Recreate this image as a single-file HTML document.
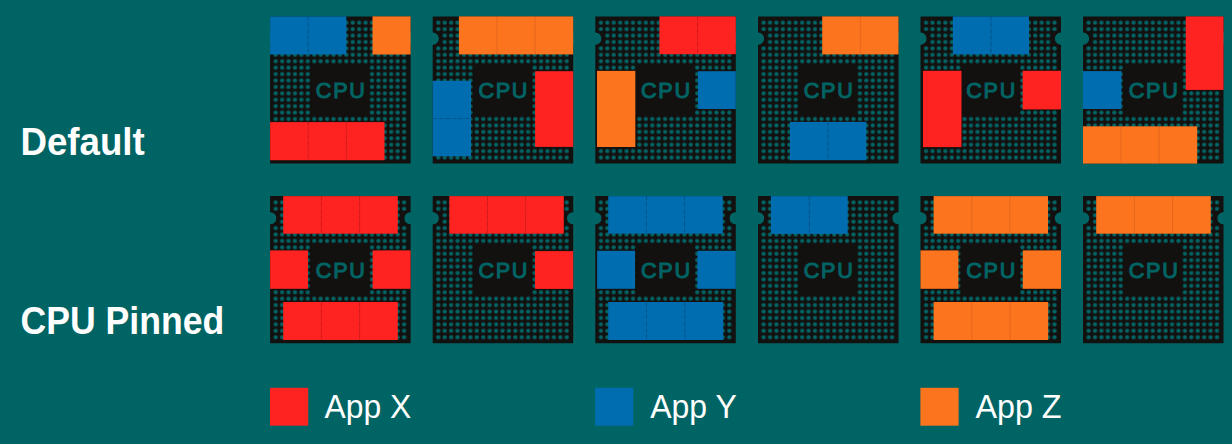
<!DOCTYPE html>
<html><head><meta charset="utf-8"><style>
html,body{margin:0;padding:0;background:#016464;width:1232px;height:444px;overflow:hidden}
svg{display:block}
</style></head><body>
<svg width="1232" height="444" viewBox="0 0 1232 444">
<defs>
<pattern id="dots" patternUnits="userSpaceOnUse" x="2.39" y="3.09" width="6.42" height="6.42">
<circle cx="3.21" cy="3.21" r="2.12" fill="#016464"/>
</pattern>
<clipPath id="chipclip"><path d="M0 0H140.5 V15.9 A6.3 6.3 0 0 0 140.5 28.5 V147.2 H0 V28.5 A6.3 6.3 0 0 0 0 15.9 Z"/></clipPath>
</defs>
<rect width="1232" height="444" fill="#016464"/>
<g transform="translate(270.1,16.4)">
<path d="M0 0H140.5 V15.9 A6.3 6.3 0 0 0 140.5 28.5 V147.2 H0 V28.5 A6.3 6.3 0 0 0 0 15.9 Z" fill="#131110"/>
<g clip-path="url(#chipclip)">
<rect x="2.39" y="3.09" width="134.82" height="141.24" fill="url(#dots)"/>
<rect x="41.1" y="47.8" width="58" height="51.6" fill="#131110"/>
<rect x="0" y="14.9" width="9" height="14.5" fill="#131110"/>
<rect x="130.5" y="14.9" width="10" height="14.5" fill="#131110"/>
</g>
<text x="70.25" y="81.45" font-family="Liberation Sans" font-size="21.6" fill="#016464" stroke="#016464" stroke-width="1.05" text-anchor="middle" textLength="49" lengthAdjust="spacing">CPU</text>
<rect x="0" y="0" width="76.2" height="38.1" fill="#016db1"/>
<line x1="38.1" y1="0" x2="38.1" y2="38.1" stroke="rgba(0,0,0,0.1)" stroke-width="1"/>
<line x1="38.1" y1="1" x2="38.1" y2="37.1" stroke="rgba(0,0,0,0.18)" stroke-width="1" stroke-dasharray="2.4 4.03"/>
<rect x="102.4" y="0" width="38.1" height="38.1" fill="#fd741f"/>
<rect x="0" y="105.7" width="114.4" height="38.1" fill="#fe2321"/>
<line x1="38.13" y1="105.7" x2="38.13" y2="143.8" stroke="rgba(60,0,0,0.16)" stroke-width="1"/>
<line x1="38.13" y1="106.7" x2="38.13" y2="142.8" stroke="rgba(0,0,0,0.1)" stroke-width="1" stroke-dasharray="2.4 4.03"/>
<line x1="76.27" y1="105.7" x2="76.27" y2="143.8" stroke="rgba(60,0,0,0.16)" stroke-width="1"/>
<line x1="76.27" y1="106.7" x2="76.27" y2="142.8" stroke="rgba(0,0,0,0.1)" stroke-width="1" stroke-dasharray="2.4 4.03"/>
</g>
<g transform="translate(432.7,16.4)">
<path d="M0 0H140.5 V15.9 A6.3 6.3 0 0 0 140.5 28.5 V147.2 H0 V28.5 A6.3 6.3 0 0 0 0 15.9 Z" fill="#131110"/>
<g clip-path="url(#chipclip)">
<rect x="2.39" y="3.09" width="134.82" height="141.24" fill="url(#dots)"/>
<rect x="41.1" y="47.8" width="58" height="51.6" fill="#131110"/>
<rect x="0" y="14.9" width="9" height="14.5" fill="#131110"/>
<rect x="130.5" y="14.9" width="10" height="14.5" fill="#131110"/>
</g>
<text x="70.25" y="81.45" font-family="Liberation Sans" font-size="21.6" fill="#016464" stroke="#016464" stroke-width="1.05" text-anchor="middle" textLength="49" lengthAdjust="spacing">CPU</text>
<rect x="26.2" y="0" width="114.3" height="38" fill="#fd741f"/>
<line x1="64.3" y1="0" x2="64.3" y2="38" stroke="rgba(90,20,0,0.14)" stroke-width="1"/>
<line x1="64.3" y1="1" x2="64.3" y2="37" stroke="rgba(0,0,0,0)" stroke-width="1" stroke-dasharray="2.4 4.03"/>
<line x1="102.4" y1="0" x2="102.4" y2="38" stroke="rgba(90,20,0,0.14)" stroke-width="1"/>
<line x1="102.4" y1="1" x2="102.4" y2="37" stroke="rgba(0,0,0,0)" stroke-width="1" stroke-dasharray="2.4 4.03"/>
<rect x="0" y="64.4" width="38.3" height="75.5" fill="#016db1"/>
<line x1="0" y1="102.15" x2="38.3" y2="102.15" stroke="rgba(0,0,0,0.1)" stroke-width="1"/>
<line x1="1" y1="102.15" x2="37.3" y2="102.15" stroke="rgba(0,0,0,0.18)" stroke-width="1" stroke-dasharray="2.4 4.03"/>
<rect x="102.4" y="54.8" width="38.1" height="75.7" fill="#fe2321"/>
</g>
<g transform="translate(595.3,16.4)">
<path d="M0 0H140.5 V15.9 A6.3 6.3 0 0 0 140.5 28.5 V147.2 H0 V28.5 A6.3 6.3 0 0 0 0 15.9 Z" fill="#131110"/>
<g clip-path="url(#chipclip)">
<rect x="2.39" y="3.09" width="134.82" height="141.24" fill="url(#dots)"/>
<rect x="41.1" y="47.8" width="58" height="51.6" fill="#131110"/>
<rect x="0" y="14.9" width="9" height="14.5" fill="#131110"/>
<rect x="130.5" y="14.9" width="10" height="14.5" fill="#131110"/>
</g>
<text x="70.25" y="81.45" font-family="Liberation Sans" font-size="21.6" fill="#016464" stroke="#016464" stroke-width="1.05" text-anchor="middle" textLength="49" lengthAdjust="spacing">CPU</text>
<rect x="64.1" y="0" width="76.4" height="37.8" fill="#fe2321"/>
<line x1="102.3" y1="0" x2="102.3" y2="37.8" stroke="rgba(60,0,0,0.16)" stroke-width="1"/>
<line x1="102.3" y1="1" x2="102.3" y2="36.8" stroke="rgba(0,0,0,0.1)" stroke-width="1" stroke-dasharray="2.4 4.03"/>
<rect x="1.7" y="54.5" width="38.3" height="76.1" fill="#fd741f"/>
<rect x="102.7" y="54.8" width="37.8" height="37.8" fill="#016db1"/>
</g>
<g transform="translate(758,16.4)">
<path d="M0 0H140.5 V15.9 A6.3 6.3 0 0 0 140.5 28.5 V147.2 H0 V28.5 A6.3 6.3 0 0 0 0 15.9 Z" fill="#131110"/>
<g clip-path="url(#chipclip)">
<rect x="2.39" y="3.09" width="134.82" height="141.24" fill="url(#dots)"/>
<rect x="41.1" y="47.8" width="58" height="51.6" fill="#131110"/>
<rect x="0" y="14.9" width="9" height="14.5" fill="#131110"/>
<rect x="130.5" y="14.9" width="10" height="14.5" fill="#131110"/>
</g>
<text x="70.25" y="81.45" font-family="Liberation Sans" font-size="21.6" fill="#016464" stroke="#016464" stroke-width="1.05" text-anchor="middle" textLength="49" lengthAdjust="spacing">CPU</text>
<rect x="64.2" y="0" width="76.3" height="38" fill="#fd741f"/>
<line x1="102.35" y1="0" x2="102.35" y2="38" stroke="rgba(90,20,0,0.14)" stroke-width="1"/>
<line x1="102.35" y1="1" x2="102.35" y2="37" stroke="rgba(0,0,0,0)" stroke-width="1" stroke-dasharray="2.4 4.03"/>
<rect x="31.9" y="105.5" width="76.3" height="38.3" fill="#016db1"/>
<line x1="70.05" y1="105.5" x2="70.05" y2="143.8" stroke="rgba(0,0,0,0.1)" stroke-width="1"/>
<line x1="70.05" y1="106.5" x2="70.05" y2="142.8" stroke="rgba(0,0,0,0.18)" stroke-width="1" stroke-dasharray="2.4 4.03"/>
</g>
<g transform="translate(920.5,16.4)">
<path d="M0 0H140.5 V15.9 A6.3 6.3 0 0 0 140.5 28.5 V147.2 H0 V28.5 A6.3 6.3 0 0 0 0 15.9 Z" fill="#131110"/>
<g clip-path="url(#chipclip)">
<rect x="2.39" y="3.09" width="134.82" height="141.24" fill="url(#dots)"/>
<rect x="41.1" y="47.8" width="58" height="51.6" fill="#131110"/>
<rect x="0" y="14.9" width="9" height="14.5" fill="#131110"/>
<rect x="130.5" y="14.9" width="10" height="14.5" fill="#131110"/>
</g>
<text x="70.25" y="81.45" font-family="Liberation Sans" font-size="21.6" fill="#016464" stroke="#016464" stroke-width="1.05" text-anchor="middle" textLength="49" lengthAdjust="spacing">CPU</text>
<rect x="32.3" y="0" width="76.2" height="38" fill="#016db1"/>
<line x1="70.4" y1="0" x2="70.4" y2="38" stroke="rgba(0,0,0,0.1)" stroke-width="1"/>
<line x1="70.4" y1="1" x2="70.4" y2="37" stroke="rgba(0,0,0,0.18)" stroke-width="1" stroke-dasharray="2.4 4.03"/>
<rect x="2.5" y="54.4" width="38.5" height="76.3" fill="#fe2321"/>
<rect x="102.1" y="54.4" width="38.4" height="38.6" fill="#fe2321"/>
</g>
<g transform="translate(1083,16.4)">
<path d="M0 0H140.5 V15.9 A6.3 6.3 0 0 0 140.5 28.5 V147.2 H0 V28.5 A6.3 6.3 0 0 0 0 15.9 Z" fill="#131110"/>
<g clip-path="url(#chipclip)">
<rect x="2.39" y="3.09" width="134.82" height="141.24" fill="url(#dots)"/>
<rect x="41.1" y="47.8" width="58" height="51.6" fill="#131110"/>
<rect x="0" y="14.9" width="9" height="14.5" fill="#131110"/>
<rect x="130.5" y="14.9" width="10" height="14.5" fill="#131110"/>
</g>
<text x="70.25" y="81.45" font-family="Liberation Sans" font-size="21.6" fill="#016464" stroke="#016464" stroke-width="1.05" text-anchor="middle" textLength="49" lengthAdjust="spacing">CPU</text>
<rect x="102.7" y="0" width="37.8" height="73.5" fill="#fe2321"/>
<rect x="0" y="54.7" width="38.4" height="37.9" fill="#016db1"/>
<rect x="0" y="109.9" width="114.2" height="37.3" fill="#fd741f"/>
<line x1="38.07" y1="109.9" x2="38.07" y2="147.2" stroke="rgba(90,20,0,0.14)" stroke-width="1"/>
<line x1="38.07" y1="110.9" x2="38.07" y2="146.2" stroke="rgba(0,0,0,0)" stroke-width="1" stroke-dasharray="2.4 4.03"/>
<line x1="76.13" y1="109.9" x2="76.13" y2="147.2" stroke="rgba(90,20,0,0.14)" stroke-width="1"/>
<line x1="76.13" y1="110.9" x2="76.13" y2="146.2" stroke="rgba(0,0,0,0)" stroke-width="1" stroke-dasharray="2.4 4.03"/>
</g>
<g transform="translate(270.1,196.1)">
<path d="M0 0H140.5 V15.9 A6.3 6.3 0 0 0 140.5 28.5 V147.2 H0 V28.5 A6.3 6.3 0 0 0 0 15.9 Z" fill="#131110"/>
<g clip-path="url(#chipclip)">
<rect x="2.39" y="3.09" width="134.82" height="141.24" fill="url(#dots)"/>
<rect x="41.1" y="47.8" width="58" height="51.6" fill="#131110"/>
<rect x="0" y="14.9" width="9" height="14.5" fill="#131110"/>
<rect x="130.5" y="14.9" width="10" height="14.5" fill="#131110"/>
</g>
<text x="70.25" y="81.45" font-family="Liberation Sans" font-size="21.6" fill="#016464" stroke="#016464" stroke-width="1.05" text-anchor="middle" textLength="49" lengthAdjust="spacing">CPU</text>
<rect x="13.1" y="0" width="114.6" height="37.6" fill="#fe2321"/>
<line x1="51.3" y1="0" x2="51.3" y2="37.6" stroke="rgba(60,0,0,0.16)" stroke-width="1"/>
<line x1="51.3" y1="1" x2="51.3" y2="36.6" stroke="rgba(0,0,0,0.1)" stroke-width="1" stroke-dasharray="2.4 4.03"/>
<line x1="89.5" y1="0" x2="89.5" y2="37.6" stroke="rgba(60,0,0,0.16)" stroke-width="1"/>
<line x1="89.5" y1="1" x2="89.5" y2="36.6" stroke="rgba(0,0,0,0.1)" stroke-width="1" stroke-dasharray="2.4 4.03"/>
<rect x="0" y="54.3" width="37.9" height="38.4" fill="#fe2321"/>
<rect x="102.5" y="54.3" width="38" height="38.4" fill="#fe2321"/>
<rect x="13.1" y="105.9" width="114.6" height="38" fill="#fe2321"/>
<line x1="51.3" y1="105.9" x2="51.3" y2="143.9" stroke="rgba(60,0,0,0.16)" stroke-width="1"/>
<line x1="51.3" y1="106.9" x2="51.3" y2="142.9" stroke="rgba(0,0,0,0.1)" stroke-width="1" stroke-dasharray="2.4 4.03"/>
<line x1="89.5" y1="105.9" x2="89.5" y2="143.9" stroke="rgba(60,0,0,0.16)" stroke-width="1"/>
<line x1="89.5" y1="106.9" x2="89.5" y2="142.9" stroke="rgba(0,0,0,0.1)" stroke-width="1" stroke-dasharray="2.4 4.03"/>
</g>
<g transform="translate(432.7,196.1)">
<path d="M0 0H140.5 V15.9 A6.3 6.3 0 0 0 140.5 28.5 V147.2 H0 V28.5 A6.3 6.3 0 0 0 0 15.9 Z" fill="#131110"/>
<g clip-path="url(#chipclip)">
<rect x="2.39" y="3.09" width="134.82" height="141.24" fill="url(#dots)"/>
<rect x="41.1" y="47.8" width="58" height="51.6" fill="#131110"/>
<rect x="0" y="14.9" width="9" height="14.5" fill="#131110"/>
<rect x="130.5" y="14.9" width="10" height="14.5" fill="#131110"/>
</g>
<text x="70.25" y="81.45" font-family="Liberation Sans" font-size="21.6" fill="#016464" stroke="#016464" stroke-width="1.05" text-anchor="middle" textLength="49" lengthAdjust="spacing">CPU</text>
<rect x="16.6" y="0" width="114.5" height="37.6" fill="#fe2321"/>
<line x1="54.77" y1="0" x2="54.77" y2="37.6" stroke="rgba(60,0,0,0.16)" stroke-width="1"/>
<line x1="54.77" y1="1" x2="54.77" y2="36.6" stroke="rgba(0,0,0,0.1)" stroke-width="1" stroke-dasharray="2.4 4.03"/>
<line x1="92.93" y1="0" x2="92.93" y2="37.6" stroke="rgba(60,0,0,0.16)" stroke-width="1"/>
<line x1="92.93" y1="1" x2="92.93" y2="36.6" stroke="rgba(0,0,0,0.1)" stroke-width="1" stroke-dasharray="2.4 4.03"/>
<rect x="102.3" y="55" width="38.2" height="37.8" fill="#fe2321"/>
</g>
<g transform="translate(595.3,196.1)">
<path d="M0 0H140.5 V15.9 A6.3 6.3 0 0 0 140.5 28.5 V147.2 H0 V28.5 A6.3 6.3 0 0 0 0 15.9 Z" fill="#131110"/>
<g clip-path="url(#chipclip)">
<rect x="2.39" y="3.09" width="134.82" height="141.24" fill="url(#dots)"/>
<rect x="41.1" y="47.8" width="58" height="51.6" fill="#131110"/>
<rect x="0" y="14.9" width="9" height="14.5" fill="#131110"/>
<rect x="130.5" y="14.9" width="10" height="14.5" fill="#131110"/>
</g>
<text x="70.25" y="81.45" font-family="Liberation Sans" font-size="21.6" fill="#016464" stroke="#016464" stroke-width="1.05" text-anchor="middle" textLength="49" lengthAdjust="spacing">CPU</text>
<rect x="12.9" y="0" width="114.6" height="37.6" fill="#016db1"/>
<line x1="51.1" y1="0" x2="51.1" y2="37.6" stroke="rgba(0,0,0,0.1)" stroke-width="1"/>
<line x1="51.1" y1="1" x2="51.1" y2="36.6" stroke="rgba(0,0,0,0.18)" stroke-width="1" stroke-dasharray="2.4 4.03"/>
<line x1="89.3" y1="0" x2="89.3" y2="37.6" stroke="rgba(0,0,0,0.1)" stroke-width="1"/>
<line x1="89.3" y1="1" x2="89.3" y2="36.6" stroke="rgba(0,0,0,0.18)" stroke-width="1" stroke-dasharray="2.4 4.03"/>
<rect x="1.8" y="54.7" width="37.9" height="38" fill="#016db1"/>
<rect x="102.1" y="54.7" width="38.4" height="38" fill="#016db1"/>
<rect x="12.9" y="105.9" width="115" height="38" fill="#016db1"/>
<line x1="51.23" y1="105.9" x2="51.23" y2="143.9" stroke="rgba(0,0,0,0.1)" stroke-width="1"/>
<line x1="51.23" y1="106.9" x2="51.23" y2="142.9" stroke="rgba(0,0,0,0.18)" stroke-width="1" stroke-dasharray="2.4 4.03"/>
<line x1="89.57" y1="105.9" x2="89.57" y2="143.9" stroke="rgba(0,0,0,0.1)" stroke-width="1"/>
<line x1="89.57" y1="106.9" x2="89.57" y2="142.9" stroke="rgba(0,0,0,0.18)" stroke-width="1" stroke-dasharray="2.4 4.03"/>
</g>
<g transform="translate(758,196.1)">
<path d="M0 0H140.5 V15.9 A6.3 6.3 0 0 0 140.5 28.5 V147.2 H0 V28.5 A6.3 6.3 0 0 0 0 15.9 Z" fill="#131110"/>
<g clip-path="url(#chipclip)">
<rect x="2.39" y="3.09" width="134.82" height="141.24" fill="url(#dots)"/>
<rect x="41.1" y="47.8" width="58" height="51.6" fill="#131110"/>
<rect x="0" y="14.9" width="9" height="14.5" fill="#131110"/>
<rect x="130.5" y="14.9" width="10" height="14.5" fill="#131110"/>
</g>
<text x="70.25" y="81.45" font-family="Liberation Sans" font-size="21.6" fill="#016464" stroke="#016464" stroke-width="1.05" text-anchor="middle" textLength="49" lengthAdjust="spacing">CPU</text>
<rect x="12.9" y="0" width="76.8" height="37.8" fill="#016db1"/>
<line x1="51.3" y1="0" x2="51.3" y2="37.8" stroke="rgba(0,0,0,0.1)" stroke-width="1"/>
<line x1="51.3" y1="1" x2="51.3" y2="36.8" stroke="rgba(0,0,0,0.18)" stroke-width="1" stroke-dasharray="2.4 4.03"/>
</g>
<g transform="translate(920.5,196.1)">
<path d="M0 0H140.5 V15.9 A6.3 6.3 0 0 0 140.5 28.5 V147.2 H0 V28.5 A6.3 6.3 0 0 0 0 15.9 Z" fill="#131110"/>
<g clip-path="url(#chipclip)">
<rect x="2.39" y="3.09" width="134.82" height="141.24" fill="url(#dots)"/>
<rect x="41.1" y="47.8" width="58" height="51.6" fill="#131110"/>
<rect x="0" y="14.9" width="9" height="14.5" fill="#131110"/>
<rect x="130.5" y="14.9" width="10" height="14.5" fill="#131110"/>
</g>
<text x="70.25" y="81.45" font-family="Liberation Sans" font-size="21.6" fill="#016464" stroke="#016464" stroke-width="1.05" text-anchor="middle" textLength="49" lengthAdjust="spacing">CPU</text>
<rect x="13.1" y="0" width="114.4" height="37.6" fill="#fd741f"/>
<line x1="51.23" y1="0" x2="51.23" y2="37.6" stroke="rgba(90,20,0,0.14)" stroke-width="1"/>
<line x1="51.23" y1="1" x2="51.23" y2="36.6" stroke="rgba(0,0,0,0)" stroke-width="1" stroke-dasharray="2.4 4.03"/>
<line x1="89.37" y1="0" x2="89.37" y2="37.6" stroke="rgba(90,20,0,0.14)" stroke-width="1"/>
<line x1="89.37" y1="1" x2="89.37" y2="36.6" stroke="rgba(0,0,0,0)" stroke-width="1" stroke-dasharray="2.4 4.03"/>
<rect x="0" y="54.3" width="37.9" height="38.4" fill="#fd741f"/>
<rect x="102.3" y="54.3" width="38.2" height="38.4" fill="#fd741f"/>
<rect x="13.1" y="105.9" width="114.6" height="38" fill="#fd741f"/>
<line x1="51.3" y1="105.9" x2="51.3" y2="143.9" stroke="rgba(90,20,0,0.14)" stroke-width="1"/>
<line x1="51.3" y1="106.9" x2="51.3" y2="142.9" stroke="rgba(0,0,0,0)" stroke-width="1" stroke-dasharray="2.4 4.03"/>
<line x1="89.5" y1="105.9" x2="89.5" y2="143.9" stroke="rgba(90,20,0,0.14)" stroke-width="1"/>
<line x1="89.5" y1="106.9" x2="89.5" y2="142.9" stroke="rgba(0,0,0,0)" stroke-width="1" stroke-dasharray="2.4 4.03"/>
</g>
<g transform="translate(1083,196.1)">
<path d="M0 0H140.5 V15.9 A6.3 6.3 0 0 0 140.5 28.5 V147.2 H0 V28.5 A6.3 6.3 0 0 0 0 15.9 Z" fill="#131110"/>
<g clip-path="url(#chipclip)">
<rect x="2.39" y="3.09" width="134.82" height="141.24" fill="url(#dots)"/>
<rect x="41.1" y="47.8" width="58" height="51.6" fill="#131110"/>
<rect x="0" y="14.9" width="9" height="14.5" fill="#131110"/>
<rect x="130.5" y="14.9" width="10" height="14.5" fill="#131110"/>
</g>
<text x="70.25" y="81.45" font-family="Liberation Sans" font-size="21.6" fill="#016464" stroke="#016464" stroke-width="1.05" text-anchor="middle" textLength="49" lengthAdjust="spacing">CPU</text>
<rect x="13.2" y="0" width="114.6" height="37.6" fill="#fd741f"/>
<line x1="51.4" y1="0" x2="51.4" y2="37.6" stroke="rgba(90,20,0,0.14)" stroke-width="1"/>
<line x1="51.4" y1="1" x2="51.4" y2="36.6" stroke="rgba(0,0,0,0)" stroke-width="1" stroke-dasharray="2.4 4.03"/>
<line x1="89.6" y1="0" x2="89.6" y2="37.6" stroke="rgba(90,20,0,0.14)" stroke-width="1"/>
<line x1="89.6" y1="1" x2="89.6" y2="36.6" stroke="rgba(0,0,0,0)" stroke-width="1" stroke-dasharray="2.4 4.03"/>
</g>
<text x="20.4" y="154.5" font-family="Liberation Sans" font-weight="bold" font-size="38" fill="#ffffff" textLength="124.4" lengthAdjust="spacingAndGlyphs">Default</text>
<text x="20.6" y="334.2" font-family="Liberation Sans" font-weight="bold" font-size="38" fill="#ffffff" textLength="203.6" lengthAdjust="spacingAndGlyphs">CPU Pinned</text>
<rect x="270" y="387.8" width="38.2" height="37.9" fill="#fe2321"/>
<text x="324.6" y="417.9" font-family="Liberation Sans" font-size="32.5" fill="#ffffff" textLength="86.7" lengthAdjust="spacingAndGlyphs">App X</text>
<rect x="595.1" y="387.8" width="38.2" height="37.9" fill="#016db1"/>
<text x="650.2" y="417.9" font-family="Liberation Sans" font-size="32.5" fill="#ffffff" textLength="86.6" lengthAdjust="spacingAndGlyphs">App Y</text>
<rect x="920.4" y="387.8" width="38.2" height="37.9" fill="#fd741f"/>
<text x="975.4" y="417.9" font-family="Liberation Sans" font-size="32.5" fill="#ffffff" textLength="86.2" lengthAdjust="spacingAndGlyphs">App Z</text>
</svg></body></html>
